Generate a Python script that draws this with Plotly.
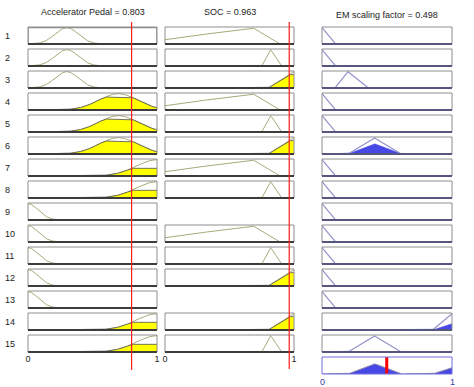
import numpy as np
import plotly.graph_objects as go

W, H = 474, 387

# ---- data ----
pedal_value = 0.803
soc_value = 0.963
em_value = 0.498

# Accelerator pedal gaussian sets: (center, sigma)
pedal_sets = {"mid_low": (0.30, 0.09), "mid_high": (0.70, 0.15),
              "high": (1.00, 0.16), "zero": (0.00, 0.08)}
# SOC triangular sets: (a, b, c)
soc_sets = {"wide": (-0.24, 0.68, 0.89), "mid": (0.75, 0.82, 0.90),
            "high": (0.80, 1.00, 1.20)}
# EM scaling factor triangular sets: (a, b, c)
em_sets = {"zero": (-0.10, 0.00, 0.10), "low": (0.10, 0.20, 0.35),
           "mid": (0.20, 0.40, 0.60), "high": (0.85, 1.00, 1.15)}

rule_pedal = ["mid_low", "mid_low", "mid_low", "mid_high", "mid_high", "mid_high",
              "high", "high", "zero", "zero", "zero", "zero", "zero", "high", "high"]
rule_soc = ["wide", "mid", "high", "wide", "mid", "high", "wide", "mid", None,
            "wide", "mid", "high", None, "high", "mid"]
rule_em = ["zero", "zero", "low", "zero", "zero", "mid", "zero", "zero", "zero",
           "zero", "zero", "zero", "zero", "high", "mid"]
rule_labels = [str(i) for i in range(1, 16)]

titles = ["Accelerator Pedal = %.3f" % pedal_value, "SOC = %.3f" % soc_value,
          "EM scaling factor = %.3f" % em_value]
tick_vals = [0, 1]
tick_text = ["0", "1"]

# ---- helpers ----
def gauss(x, c, s):
    return np.exp(-((x - c) ** 2) / (2 * s * s))

def tri(x, a, b, c):
    x = np.asarray(x, dtype=float)
    return np.clip(np.minimum((x - a) / (b - a), (c - x) / (c - b)), 0, 1)

xs = np.linspace(0, 1, 401)

# layout geometry (pixels)
col_px = [(28, 157), (165, 294), (322, 452)]
def row_px(i):
    top = 27 + 22 * i
    return top, top + 17

def px_x(p):
    return p / W

def px_y(p):
    return 1 - p / H

YR = [0, 1.04]
OLIVE = "#a9a97a"
YELLOW = "#ffff00"
EDGE = "#505050"
LAV = "#9393cc"
BLUE = "#4848e6"
RED = "#ff1a1a"
FONT = dict(size=9, color="#222222", family="Liberation Sans")

fig = go.Figure()
layout = {}
shapes = []
annotations = []

def add_axes(k, col, top, bot, ticks=False):
    xname = "xaxis" if k == 1 else "xaxis%d" % k
    yname = "yaxis" if k == 1 else "yaxis%d" % k
    x0, x1 = col_px[col]
    ax = dict(domain=[px_x(x0), px_x(x1)], range=[0, 1], anchor="y" if k == 1 else "y%d" % k,
              showgrid=False, zeroline=False, showline=False, fixedrange=True)
    if ticks:
        ax.update(visible=True, tickvals=tick_vals, ticktext=tick_text, ticks="",
                  tickfont=FONT)
    else:
        ax.update(visible=False)
    layout[xname] = ax
    layout[yname] = dict(domain=[px_y(bot), px_y(top)], range=YR, visible=False,
                         anchor="x" if k == 1 else "x%d" % k, fixedrange=True)

def refs(k):
    return ("x" if k == 1 else "x%d" % k), ("y" if k == 1 else "y%d" % k)

aggregate = np.zeros_like(xs)

for r in range(15):
    top, bot = row_px(r)
    # --- column 1: pedal ---
    k = 3 * r + 1
    add_axes(k, 0, top, bot, ticks=(r == 14))
    xr, yr = refs(k)
    c, s = pedal_sets[rule_pedal[r]]
    mf = gauss(xs, c, s)
    mu_p = float(gauss(pedal_value, c, s))
    fig.add_trace(go.Scatter(x=xs, y=mf, mode="lines", line=dict(color=OLIVE, width=1),
                             xaxis=xr, yaxis=yr, hoverinfo="skip"))
    if mu_p > 0.01:
        fig.add_trace(go.Scatter(x=xs, y=np.minimum(mf, mu_p), mode="lines", fill="tozeroy",
                                 fillcolor=YELLOW, line=dict(color=EDGE, width=0.8),
                                 xaxis=xr, yaxis=yr, hoverinfo="skip"))
    # --- column 2: SOC ---
    k = 3 * r + 2
    add_axes(k, 1, top, bot, ticks=(r == 14))
    xr, yr = refs(k)
    mu_s = 1.0
    if rule_soc[r] is not None:
        a, b, cc = soc_sets[rule_soc[r]]
        mf = tri(xs, a, b, cc)
        mu_s = float(tri(soc_value, a, b, cc))
        fig.add_trace(go.Scatter(x=xs, y=mf, mode="lines", line=dict(color=OLIVE, width=1),
                                 xaxis=xr, yaxis=yr, hoverinfo="skip"))
        if mu_s > 0.01:
            fig.add_trace(go.Scatter(x=xs, y=np.minimum(mf, mu_s), mode="lines", fill="tozeroy",
                                     fillcolor=YELLOW, line=dict(color=EDGE, width=0.8),
                                     xaxis=xr, yaxis=yr, hoverinfo="skip"))
    # --- column 3: EM output ---
    k = 3 * r + 3
    add_axes(k, 2, top, bot)
    xr, yr = refs(k)
    a, b, cc = em_sets[rule_em[r]]
    mf = tri(xs, a, b, cc)
    w = mu_p * mu_s
    if w > 0.01:
        fig.add_trace(go.Scatter(x=xs, y=w * mf, mode="lines", fill="tozeroy",
                                 fillcolor=BLUE, line=dict(color=BLUE, width=0.5),
                                 xaxis=xr, yaxis=yr, hoverinfo="skip"))
        aggregate = np.maximum(aggregate, w * mf)
    fig.add_trace(go.Scatter(x=xs, y=mf, mode="lines", line=dict(color=LAV, width=1.2),
                             xaxis=xr, yaxis=yr, hoverinfo="skip"))

# aggregate row
k = 46
top, bot = 357, 374
add_axes(k, 2, top, bot, ticks=False)
xr, yr = refs(k)
fig.add_trace(go.Scatter(x=xs, y=aggregate, mode="lines", fill="tozeroy", fillcolor=BLUE,
                         line=dict(color="#8a8aa8", width=1), xaxis=xr, yaxis=yr, hoverinfo="skip"))
fig.add_trace(go.Scatter(x=[em_value, em_value], y=[0, YR[1]], mode="lines",
                         line=dict(color="#ff0000", width=3), xaxis=xr, yaxis=yr, hoverinfo="skip"))
# tick labels of the output axis, placed through the axis' own x scale
for v, t in zip(tick_vals, tick_text):
    annotations.append(dict(text=t, x=v, y=px_y(381.5), xref=xr, yref="paper",
                            showarrow=False, xanchor="center", yanchor="middle",
                            font=dict(size=9, color="#3a3ab0", family="Liberation Sans")))

# boxes
for kk in range(1, 47):
    xr, yr = refs(kk)
    col = (kk - 1) % 3 if kk < 46 else 2
    border = "#7070e0" if kk == 46 else "#8e8e8e"
    shapes.append(dict(type="rect", xref=xr + " domain", yref=yr + " domain",
                       x0=0, x1=1, y0=0, y1=1, line=dict(color=border, width=1)))
    if kk < 46:
        shapes.append(dict(type="line", xref=xr + " domain", yref=yr + " domain",
                           x0=0, x1=1, y0=0, y1=0,
                           line=dict(color="#56567e" if col == 2 else "#3c3c3c", width=2)))

# input value lines
shapes.append(dict(type="line", xref="x", yref="paper", x0=pedal_value, x1=pedal_value,
                   y0=px_y(370), y1=px_y(22), line=dict(color=RED, width=1.2)))
shapes.append(dict(type="line", xref="x2", yref="paper", x0=soc_value, x1=soc_value,
                   y0=px_y(369), y1=px_y(22), line=dict(color=RED, width=1.2)))

title_pos = [(92.5, 12), (229.5, 12), (386.5, 15)]
for t, (xp, yp) in zip(titles, title_pos):
    annotations.append(dict(text=t, x=px_x(xp), y=px_y(yp), xref="paper", yref="paper",
                            showarrow=False, xanchor="center", yanchor="middle", font=FONT))
for r, lab in enumerate(rule_labels):
    top, bot = row_px(r)
    annotations.append(dict(text=lab, x=px_x(3), y=px_y((top + bot) / 2 + 0.5), xref="paper",
                            yref="paper", showarrow=False, xanchor="left", yanchor="middle",
                            font=FONT))

fig.update_layout(width=W, height=H, margin=dict(l=0, r=0, t=0, b=0, autoexpand=False),
                  paper_bgcolor="white", plot_bgcolor="white", showlegend=False,
                  hovermode=False, shapes=shapes, annotations=annotations, **layout)

fig.write_html("out.html", config={"displayModeBar": False, "staticPlot": True},
               post_script="document.body.style.margin='0';document.body.style.overflow='hidden';")
